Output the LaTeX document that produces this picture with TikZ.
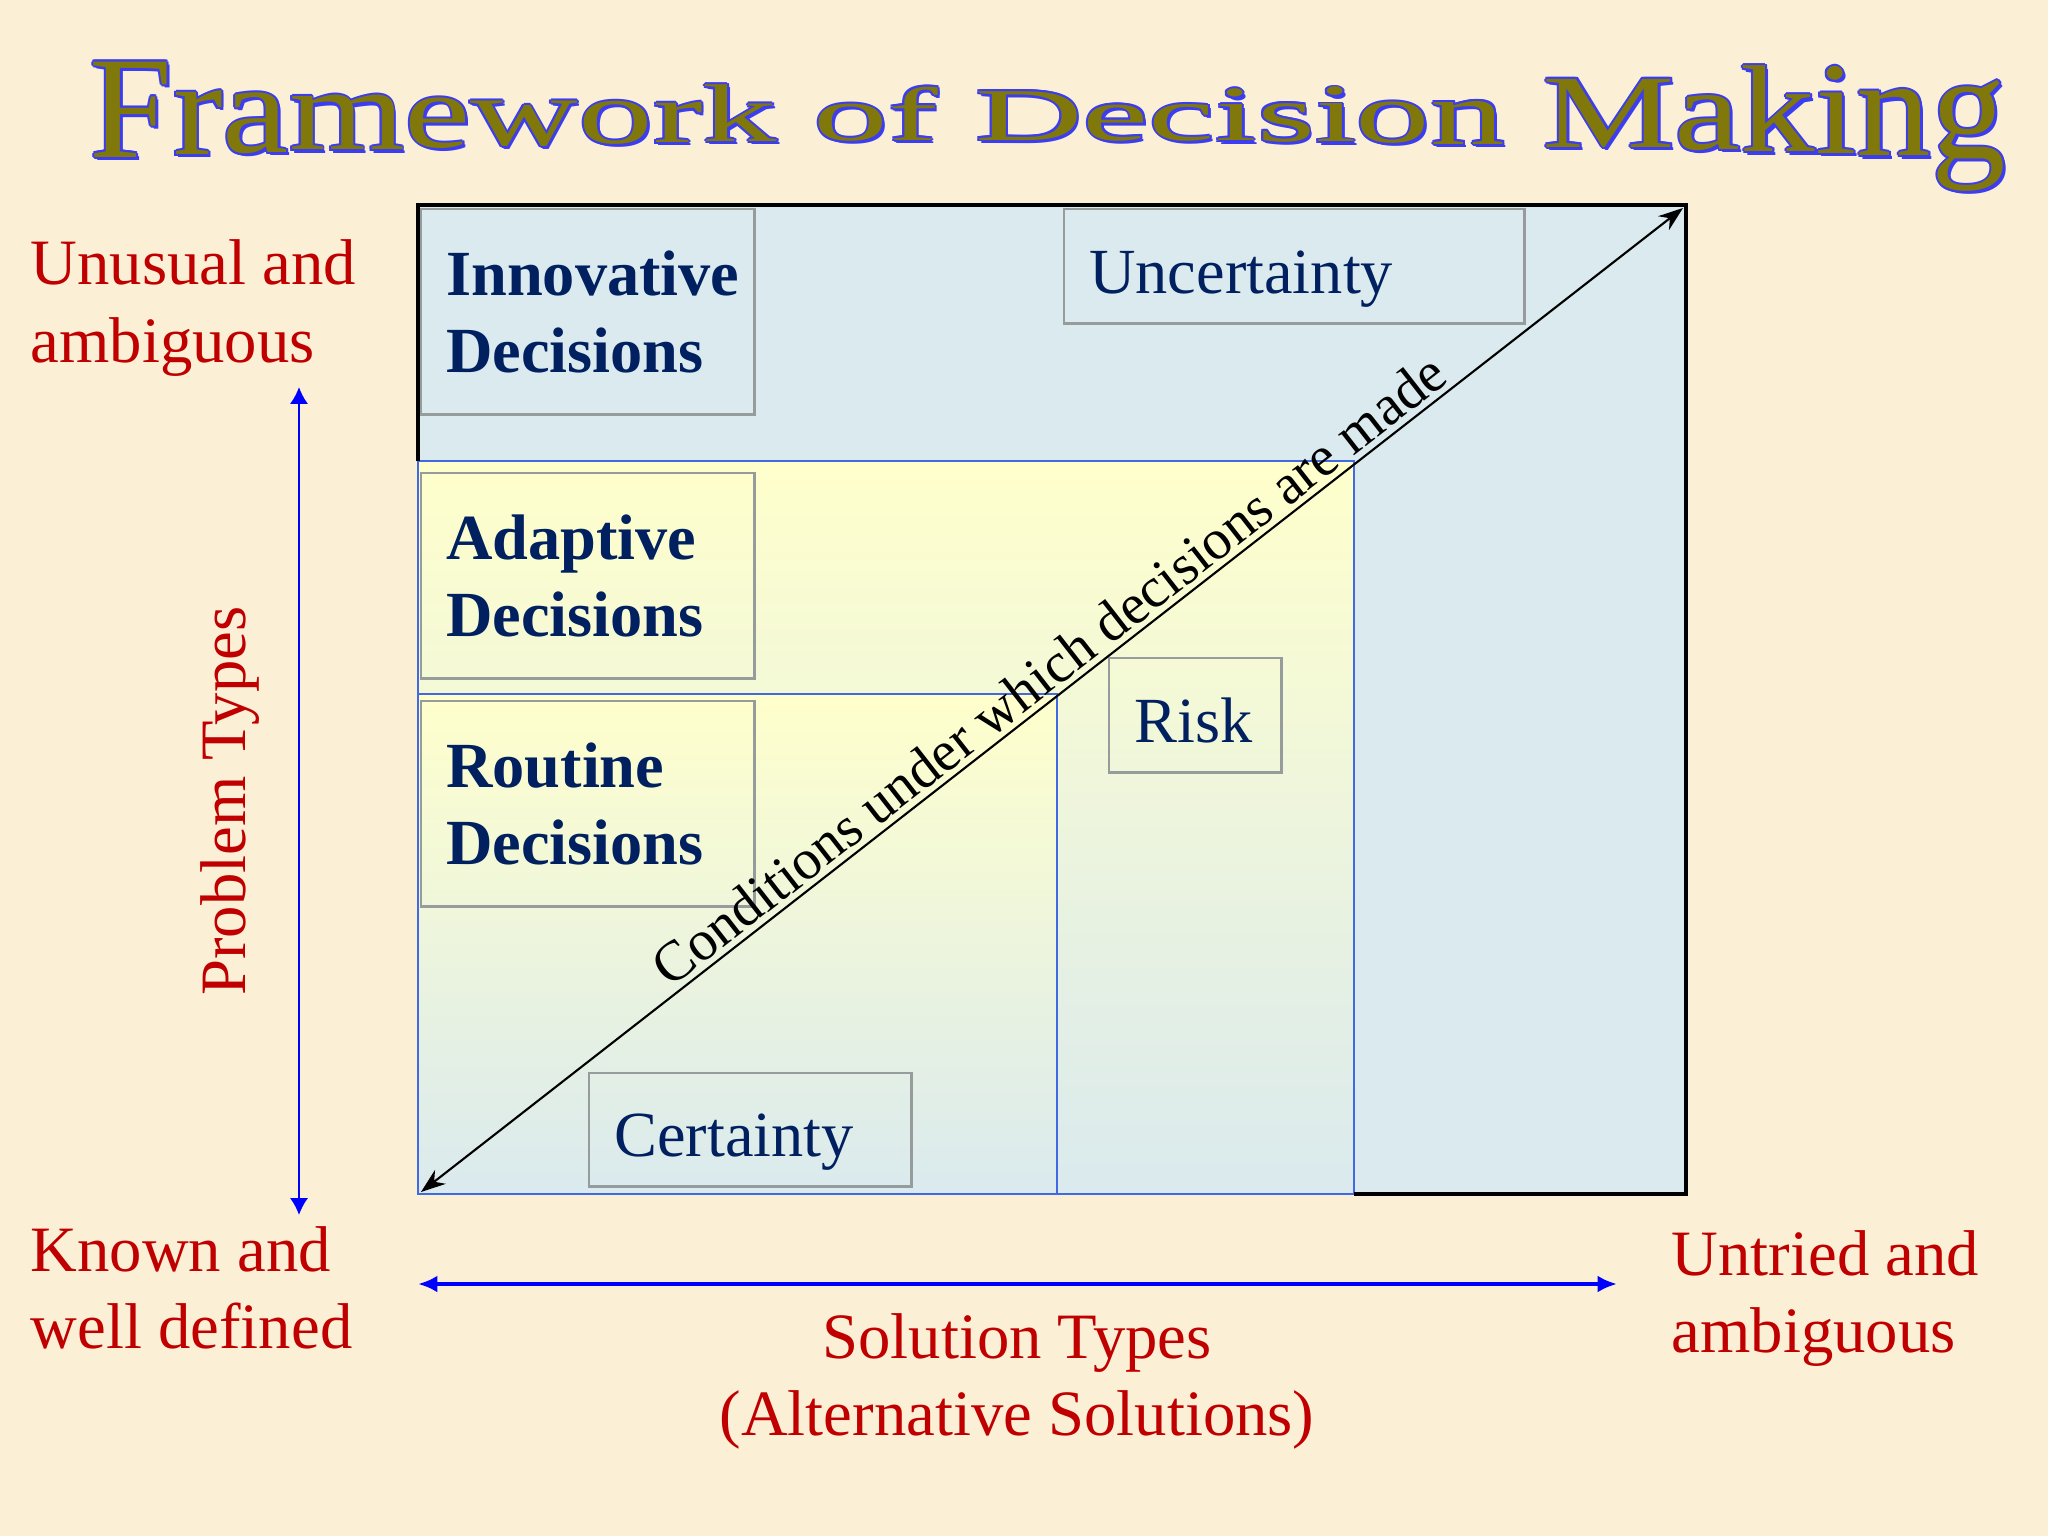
\documentclass[tikz,border=0pt]{standalone}
\usepackage{fontspec}
\setmainfont{Liberation Serif}
\usetikzlibrary{arrows.meta}
\hfuzz=20pt
\definecolor{bgc}{RGB}{251,240,214}
\definecolor{lblue}{RGB}{218,234,238}
\definecolor{yel}{RGB}{255,255,204}
\definecolor{rblue}{RGB}{65,105,225}
\definecolor{boxgray}{RGB}{150,155,155}
\definecolor{navy}{RGB}{0,32,96}
\definecolor{redc}{RGB}{192,0,0}
\definecolor{tolive}{RGB}{128,120,10}
\definecolor{tblue}{RGB}{60,60,240}
\definecolor{arrblue}{RGB}{0,0,255}
\newsavebox\tlboxb
\newsavebox\tlboxo
\newcommand\tletter[2]{%
  \sbox\tlboxb{\scalebox{1}[#2]{\color{tblue}#1}}%
  \sbox\tlboxo{\scalebox{1}[#2]{\color{tolive}#1}}%
  \rlap{\kern0.8pt\raisebox{-0.9pt}{\usebox\tlboxb}}%
  \rlap{\kern-0.55pt\usebox\tlboxb}%
  \rlap{\kern0.55pt\usebox\tlboxb}%
  \rlap{\raisebox{0.55pt}{\usebox\tlboxb}}%
  \rlap{\raisebox{-0.55pt}{\usebox\tlboxb}}%
  \rlap{\kern0.4pt\raisebox{0.4pt}{\usebox\tlboxb}}%
  \rlap{\kern-0.4pt\raisebox{0.4pt}{\usebox\tlboxb}}%
  \rlap{\kern0.4pt\raisebox{-0.4pt}{\usebox\tlboxb}}%
  \rlap{\kern-0.4pt\raisebox{-0.4pt}{\usebox\tlboxb}}%
  \usebox\tlboxo}
\begin{document}
\begin{tikzpicture}[x=0.01cm,y=-0.01cm,
  dbox/.style={draw=boxgray, line width=0.7pt, anchor=north west, inner xsep=0.25cm, inner ysep=0pt, align=left, text=navy},
  twoline/.style={dbox, font=\bfseries\fontsize{18.3}{22}\selectfont},
  oneline/.style={dbox, font=\fontsize{18.3}{22}\selectfont, text height=15.4pt, text depth=0pt},
  redlabel/.style={text=redc, font=\fontsize{18.4}{21.9}\selectfont, align=left, inner sep=0pt},
  regionline/.style={draw=rblue, line width=0.6pt},
  blarrow/.style={draw=arrblue, line width=0.65pt, {Latex[length=4.8pt,width=5.2pt]}-{Latex[length=4.8pt,width=5.2pt]}},
  bharrow/.style={draw=arrblue, line width=1.1pt, {Latex[length=5.5pt,width=4.8pt]}-{Latex[length=5.5pt,width=4.8pt]}},
  diagarrow/.style={draw=black, line width=0.6pt, {Stealth[length=7pt,width=5pt]}-{Stealth[length=7pt,width=5pt]}}
]
\useasboundingbox (0,0) rectangle (2048,1536);
\fill[bgc] (0,0) rectangle (2048,1536);

% title
\foreach \ch/\x [count=\i] in {F/131,r/198,a/256,m/347,e/438,w/524,o/616,r/678,k/740,o/851,f/913,D/1029,e/1116,c/1182,i/1236,s/1286,i/1336,o/1393,n/1468,M/1609,a/1708,k/1778,i/1836,n/1894,g/1969}{
  \pgfmathsetmacro\u{((\x-1030)/920)^2}
  \pgfmathsetmacro\sy{0.5+0.5*\u}
  \pgfmathsetmacro\by{140+18*\u}
  \node[anchor=base, inner sep=0pt, font=\fontsize{42.4}{50}\selectfont] (t\i) at (\x,\by) {\tletter{\ch}{\sy}};
}

% regions
\fill[lblue] (418,205) rectangle (1686,1194);
\shade[top color=yel, bottom color=lblue] (418,461) rectangle (1354,1194);
\shade[top color=yel, bottom color=lblue] (418,694) rectangle (1057,1194);
\draw[regionline] (418,461) rectangle (1354,1194);
\draw[regionline] (418,694) rectangle (1057,1194);
\draw[black, line width=0.9pt] (418,461) -- (418,205) -- (1686,205) -- (1686,1194) -- (1354,1194);

% boxes
\node[twoline, text width=2.83cm, minimum height=2.05cm] (innov) at (420,208) {Innovative\\Decisions};
\node[twoline, text width=2.83cm, minimum height=2.05cm] (adapt) at (420,472) {Adaptive\\Decisions};
\node[twoline, text width=2.83cm, minimum height=2.05cm] (routine) at (420,700) {Routine\\Decisions};
\node[oneline, text width=4.10cm, minimum height=1.14cm] (uncert) at (1063,208) {Uncertainty};
\node[oneline, text width=1.22cm, minimum height=1.14cm] (risk) at (1108,657) {Risk};
\node[oneline, text width=2.72cm, minimum height=1.13cm] (cert) at (588,1072) {Certainty};

% diagonal
\coordinate (dA) at (421,1192);
\coordinate (dB) at (1683,208);
\draw[diagarrow] (dA) -- node[sloped, above, pos=0.51, inner sep=1.5pt, font=\fontsize{16.1}{20}\selectfont] (cond) {Conditions under which decisions are made} (dB);

% axes arrows
\coordinate (vT) at (299,387);
\coordinate (vB) at (299,1215);
\draw[blarrow] (vT) -- (vB);
\coordinate (hL) at (418,1284);
\coordinate (hR) at (1617,1284);
\draw[bharrow] (hL) -- (hR);

% labels
\node[redlabel, anchor=base west] (unusual) at (30,362) {Unusual and\\ambiguous};
\node[redlabel, anchor=base west] (known) at (30,1348) {Known and\\well defined};
\node[redlabel, anchor=base west] (untried) at (1671,1352) {Untried and\\ambiguous};
\node[redlabel, anchor=base, align=center] (soltypes) at (1017,1435) {Solution Types\\(Alternative Solutions)};
\node[redlabel, anchor=base, rotate=90] (probtypes) at (245,801) {Problem Types};
\end{tikzpicture}
\end{document}
